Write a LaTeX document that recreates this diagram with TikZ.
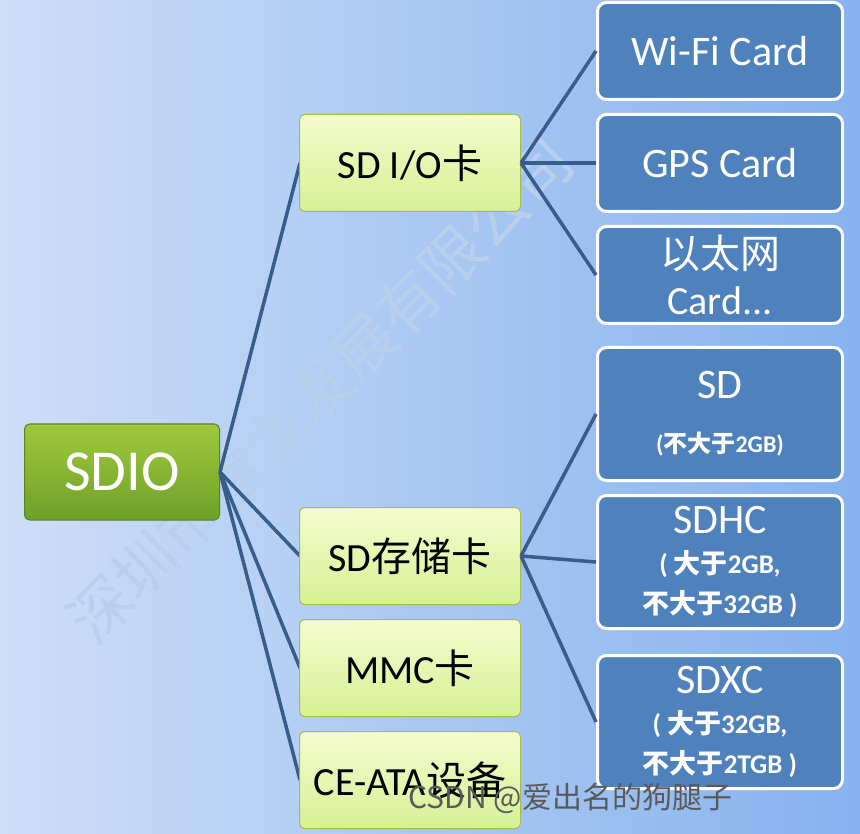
\documentclass[tikz,border=0pt]{standalone}
\usepackage{fontspec}
\setmainfont{Carlito}
\newfontfamily\cjk{Noto Sans CJK SC}
\newcommand\smf{\bfseries\fontsize{27}{33}\selectfont}
\begin{document}
\begin{tikzpicture}[x=1pt,y=-1pt,
  gbox/.style={draw={rgb,255:red,160;green,190;blue,80},line width=1pt,rounded corners=5pt,top color={rgb,255:red,245;green,252;blue,205},bottom color={rgb,255:red,215;green,240;blue,150},minimum width=221pt,minimum height=97pt,text=black,font=\fontsize{40}{44}\selectfont},
  bbox/.style={draw=white,line width=3pt,rounded corners=9pt,fill={rgb,255:red,79;green,129;blue,189},minimum width=245pt,text=white,align=center,inner sep=2pt},
  conn/.style={draw={rgb,255:red,56;green,93;blue,138},line width=3.5pt}]
\useasboundingbox (0,0) rectangle (860,834);
\shade[left color={rgb,255:red,205;green,222;blue,247},right color={rgb,255:red,135;green,178;blue,238}] (0,0) rectangle (860,834);
\node[rotate=45,text={rgb,255:red,185;green,207;blue,238},font=\cjk\fontsize{62}{70}\selectfont] (wm) at (320,390) {深圳市雷龙发展有限公司};
\node[draw={rgb,255:red,95;green,130;blue,40},line width=1pt,rounded corners=5pt,top color={rgb,255:red,160;green,200;blue,60},bottom color={rgb,255:red,110;green,160;blue,40},minimum width=195pt,minimum height=96pt,text=white,font=\fontsize{58}{62}\selectfont] (sdio) at (122,472) {SDIO};
\foreach \t/\y in {io/163,st/556,mmc/668,ce/780} \coordinate (c\t) at (300,\y);
\draw[conn] (sdio.east) -- (cio);
\draw[conn] (sdio.east) -- (cst);
\draw[conn] (sdio.east) -- (cmmc);
\draw[conn] (sdio.east) -- (cce);
\node[gbox] (io) at (410,163) {SD I/O{\cjk 卡}};
\node[gbox] (st) at (410,556) {SD{\cjk 存储卡}};
\node[gbox] (mmc) at (410,668) {MMC{\cjk 卡}};
\node[gbox] (ce) at (410,780) {CE-ATA{\cjk 设备}};
\node[bbox,minimum height=97pt,font=\fontsize{42}{46}\selectfont] (wifi) at (720,51) {Wi-Fi Card};
\node[bbox,minimum height=97pt,font=\fontsize{42}{46}\selectfont] (gps) at (720,163) {GPS Card};
\node[bbox,minimum height=97pt,font=\fontsize{40}{46}\selectfont] (eth) at (720,275) {{\cjk 以太网}\\Card...};
\node[bbox,minimum height=133pt,font=\fontsize{42}{48}\selectfont] (sd) at (720,414) {SD\\[6pt]\bfseries\fontsize{24}{28}\selectfont({\cjk 不大于}2GB)};
\node[bbox,minimum height=133pt,font=\fontsize{42}{40}\selectfont] (sdhc) at (720,562) {SDHC\\\smf ( {\cjk 大于}2GB,\\\smf {\cjk 不大于}32GB )};
\node[bbox,minimum height=133pt,font=\fontsize{42}{40}\selectfont] (sdxc) at (720,722) {SDXC\\\smf ( {\cjk 大于}32GB,\\\smf {\cjk 不大于}2TGB )};
\foreach \t in {wifi,gps,eth} \draw[conn] (io.east) -- (\t.west);
\foreach \t in {sd,sdhc,sdxc} \draw[conn] (st.east) -- (\t.west);
\node[text={rgb,255:red,90;green,90;blue,90},font=\cjk\fontsize{30}{34}\selectfont,anchor=west] (csdn) at (405,798) {CSDN @爱出名的狗腿子};
\end{tikzpicture}
\end{document}
